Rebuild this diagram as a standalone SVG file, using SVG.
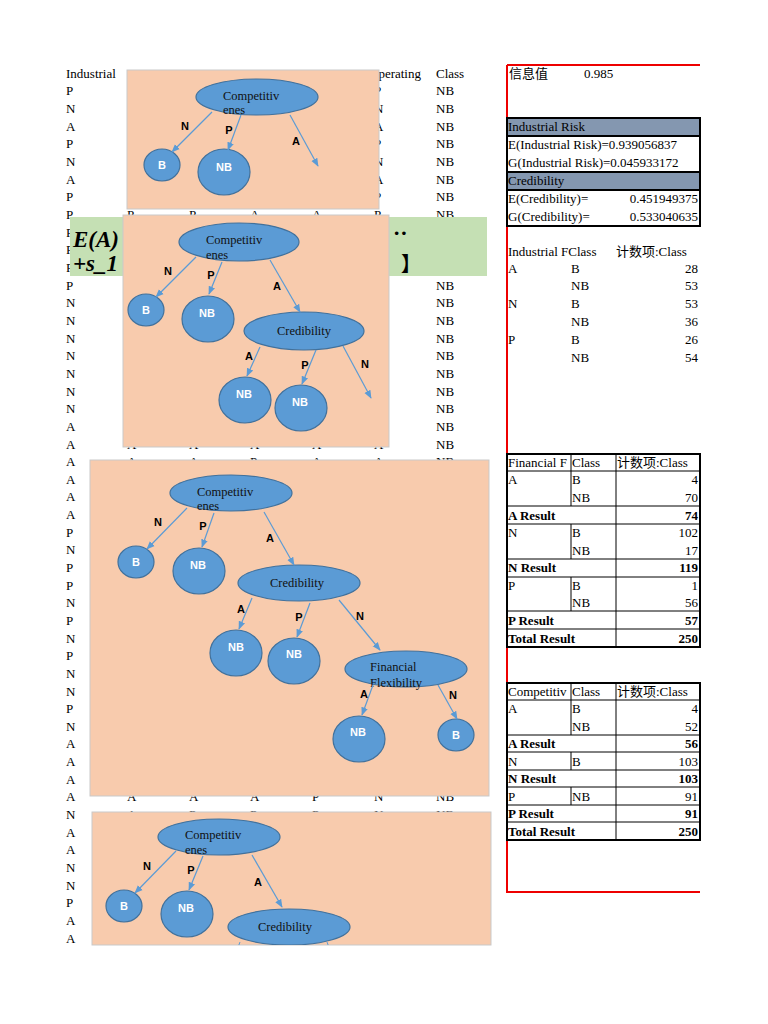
<svg xmlns="http://www.w3.org/2000/svg" width="768" height="1024" viewBox="0 0 768 1024">
<defs>
<style>
.s{font-family:"Liberation Serif",serif;font-size:13px;fill:#000}
.sb{font-family:"Liberation Serif",serif;font-size:13px;font-weight:bold;fill:#000}
.cj{font-family:"Liberation Serif","Noto Sans CJK SC",serif;font-size:13px;fill:#000}
.pn{fill:#f8cbad;stroke:#c9c9c9;stroke-width:1}
.nd{fill:#5b9bd5;stroke:#41719c;stroke-width:1.2}
.lf{font-family:"Liberation Sans",sans-serif;font-size:11px;font-weight:bold;fill:#fff;text-anchor:middle}
.nt{font-family:"Liberation Serif",serif;font-size:12.5px;fill:#111}
.el{font-family:"Liberation Sans",sans-serif;font-size:11px;font-weight:bold;fill:#000;text-anchor:middle}
.ar{stroke:#5b9bd5;stroke-width:1.2;fill:none;marker-end:url(#m)}
.r{text-anchor:end}
.tb{fill:none;stroke:#000;stroke-width:2}
.tl{stroke:#000;stroke-width:1}
</style>
<marker id="m" viewBox="0 0 10 10" refX="9" refY="5" markerWidth="7" markerHeight="7" orient="auto"><path d="M0,1 L10,5 L0,9 z" fill="#5b9bd5"/></marker>
<clipPath id="c4"><rect x="92" y="812" width="399" height="133"/></clipPath>
</defs>
<rect width="768" height="1024" fill="#fff"/>
<g id="sheet">
<text class="s" x="66" y="78">Industrial</text><text class="s" x="369" y="78">Operating</text><text class="s" x="436" y="78">Class</text>
<g class="s">
<text x="66" y="95">P</text><text x="66" y="113">N</text><text x="66" y="131">A</text><text x="66" y="148">P</text><text x="66" y="166">N</text><text x="66" y="184">A</text><text x="66" y="201">P</text><text x="66" y="219">P</text><text x="66" y="237">P</text><text x="66" y="254">P</text><text x="66" y="272">P</text><text x="66" y="290">P</text><text x="66" y="307">N</text><text x="66" y="325">N</text><text x="66" y="343">N</text><text x="66" y="360">N</text><text x="66" y="378">N</text><text x="66" y="396">N</text><text x="66" y="413">N</text><text x="66" y="431">A</text><text x="66" y="449">A</text><text x="66" y="466">A</text><text x="66" y="484">A</text><text x="66" y="501">A</text><text x="66" y="519">A</text><text x="66" y="537">P</text><text x="66" y="554">N</text><text x="66" y="572">P</text><text x="66" y="590">P</text><text x="66" y="607">N</text><text x="66" y="625">P</text><text x="66" y="643">N</text><text x="66" y="660">P</text><text x="66" y="678">N</text><text x="66" y="696">N</text><text x="66" y="713">P</text><text x="66" y="731">N</text><text x="66" y="748">A</text><text x="66" y="766">A</text><text x="66" y="784">A</text><text x="66" y="801">A</text><text x="66" y="819">N</text><text x="66" y="837">A</text><text x="66" y="854">A</text><text x="66" y="872">N</text><text x="66" y="890">N</text><text x="66" y="907">P</text><text x="66" y="925">A</text><text x="66" y="943">A</text>
<text x="374" y="95">P</text><text x="374" y="113">N</text><text x="374" y="131">A</text><text x="374" y="148">P</text><text x="374" y="166">N</text><text x="374" y="184">A</text><text x="374" y="201">P</text>
<text x="127" y="219">P</text><text x="189" y="219">P</text><text x="250" y="219">A</text><text x="312" y="219">A</text><text x="374" y="219">P</text>
<text x="127" y="449">A</text><text x="189" y="449">A</text><text x="250" y="449">A</text><text x="312" y="449">A</text><text x="374" y="449">A</text>
<text x="127" y="466">A</text><text x="189" y="466">A</text><text x="250" y="466">P</text><text x="312" y="466">A</text><text x="374" y="466">A</text>
<text x="127" y="801">A</text><text x="189" y="801">A</text><text x="250" y="801">A</text><text x="312" y="801">P</text><text x="374" y="801">N</text>
<text x="127" y="819">A</text><text x="189" y="819">P</text><text x="250" y="819">P</text><text x="312" y="819">P</text><text x="374" y="819">N</text>
</g>
<g class="s">
<text x="436" y="95">NB</text><text x="436" y="113">NB</text><text x="436" y="131">NB</text><text x="436" y="148">NB</text><text x="436" y="166">NB</text><text x="436" y="184">NB</text><text x="436" y="201">NB</text><text x="436" y="219">NB</text><text x="436" y="290">NB</text><text x="436" y="307">NB</text><text x="436" y="325">NB</text><text x="436" y="343">NB</text><text x="436" y="360">NB</text><text x="436" y="378">NB</text><text x="436" y="396">NB</text><text x="436" y="413">NB</text><text x="436" y="431">NB</text><text x="436" y="449">NB</text><text x="436" y="466">NB</text><text x="436" y="801">NB</text><text x="436" y="819">NB</text>
</g>
</g>
<g id="formula">
<rect x="70" y="217" width="417" height="59" fill="#c5e0b4"/>
<text x="73" y="247" font-family="Liberation Serif,serif" font-size="23" font-weight="bold" font-style="italic">E(A)</text>
<text x="73" y="271" font-family="Liberation Serif,serif" font-size="23" font-weight="bold" font-style="italic">+s_1</text>
<text x="393" y="240" font-family="Liberation Serif,serif" font-size="22" font-weight="bold">··</text>
<text x="401" y="271" font-family="Liberation Serif,Noto Sans CJK SC,serif" font-size="20" font-weight="bold">】</text>
</g>
<g id="panel1">
<rect class="pn" x="127" y="70" width="252" height="139"/>
<ellipse class="nd" cx="257" cy="97" rx="61" ry="18"/><text class="nt" x="223" y="100">Competitiv</text><text class="nt" x="223" y="114">enes</text>
<ellipse class="nd" cx="162" cy="165" rx="18" ry="16"/><text class="lf" x="162" y="169">B</text>
<ellipse class="nd" cx="224" cy="172" rx="26" ry="23"/><text class="lf" x="224" y="171">NB</text>
</g>
<g id="panel2">
<rect class="pn" x="123" y="215" width="266" height="232"/>
<ellipse class="nd" cx="239" cy="242" rx="60" ry="19"/><text class="nt" x="206" y="244">Competitiv</text><text class="nt" x="206" y="259">enes</text>
<ellipse class="nd" cx="146" cy="310" rx="18" ry="16"/><text class="lf" x="146" y="314">B</text>
<ellipse class="nd" cx="208" cy="319" rx="26" ry="23"/><text class="lf" x="207" y="317">NB</text>
<ellipse class="nd" cx="304" cy="331" rx="60" ry="19"/><text class="nt" x="304" y="335" text-anchor="middle">Credibility</text>
<ellipse class="nd" cx="245" cy="400" rx="26" ry="23"/><text class="lf" x="244" y="398">NB</text>
<ellipse class="nd" cx="301" cy="408" rx="26" ry="23"/><text class="lf" x="300" y="406">NB</text>
</g>
<g id="panel3">
<rect class="pn" x="90" y="460" width="399" height="336"/>
<ellipse class="nd" cx="231" cy="493" rx="61" ry="18"/><text class="nt" x="197" y="496">Competitiv</text><text class="nt" x="197" y="510">enes</text>
<ellipse class="nd" cx="136" cy="562" rx="18" ry="16"/><text class="lf" x="136" y="566">B</text>
<ellipse class="nd" cx="199" cy="571" rx="26" ry="23"/><text class="lf" x="198" y="569">NB</text>
<ellipse class="nd" cx="299" cy="583" rx="61" ry="18"/><text class="nt" x="297" y="587" text-anchor="middle">Credibility</text>
<ellipse class="nd" cx="236" cy="653" rx="26" ry="23"/><text class="lf" x="236" y="651">NB</text>
<ellipse class="nd" cx="294" cy="661" rx="26" ry="23"/><text class="lf" x="294" y="658">NB</text>
<ellipse class="nd" cx="406" cy="669" rx="61" ry="18"/><text class="nt" x="370" y="671">Financial</text><text class="nt" x="370" y="687">Flexibility</text>
<ellipse class="nd" cx="359" cy="739" rx="26" ry="23"/><text class="lf" x="358" y="736">NB</text>
<ellipse class="nd" cx="456" cy="735" rx="18" ry="16"/><text class="lf" x="456" y="739">B</text>
</g>
<g id="panel4">
<rect class="pn" x="92" y="812" width="399" height="133"/>
<g clip-path="url(#c4)">
<ellipse class="nd" cx="219" cy="837" rx="61" ry="18"/><text class="nt" x="185" y="839">Competitiv</text><text class="nt" x="185" y="854">enes</text>
<ellipse class="nd" cx="124" cy="906" rx="18" ry="16"/><text class="lf" x="124" y="910">B</text>
<ellipse class="nd" cx="187" cy="914" rx="26" ry="23"/><text class="lf" x="186" y="912">NB</text>
<ellipse class="nd" cx="289" cy="927" rx="61" ry="18"/><text class="nt" x="285" y="931" text-anchor="middle">Credibility</text>
<line x1="240" y1="942" x2="237" y2="950" stroke="#5b9bd5"/><line x1="327" y1="942" x2="330" y2="950" stroke="#5b9bd5"/>
</g>
</g>
<g id="connectors">
<path class="ar" d="M212,112 L172,152"/><path class="ar" d="M241,115 L228,150"/><path class="ar" d="M290,115 L318,166"/>
<path class="ar" d="M196,257 L156,297"/><path class="ar" d="M222,262 L209,294"/><path class="ar" d="M270,260 L300,312"/>
<path class="ar" d="M260,347 L247,376"/><path class="ar" d="M316,350 L302,384"/><path class="ar" d="M343,346 L371,398"/>
<path class="ar" d="M187,508 L147,549"/><path class="ar" d="M214,513 L202,547"/><path class="ar" d="M264,512 L294,565"/>
<path class="ar" d="M252,598 L239,629"/><path class="ar" d="M310,603 L297,637"/><path class="ar" d="M339,600 L380,650"/>
<path class="ar" d="M373,685 L362,715"/><path class="ar" d="M438,685 L457,719"/>
<path class="ar" d="M176,851 L135,893"/><path class="ar" d="M203,856 L189,890"/><path class="ar" d="M252,855 L282,907"/>
<g class="el">
<text x="185" y="130">N</text><text x="229" y="134">P</text><text x="296" y="145">A</text>
<text x="168" y="275">N</text><text x="211" y="279">P</text><text x="277" y="290">A</text>
<text x="249" y="360">A</text><text x="305" y="369">P</text><text x="365" y="368">N</text>
<text x="158" y="526">N</text><text x="203" y="530">P</text><text x="270" y="542">A</text>
<text x="241" y="613">A</text><text x="299" y="621">P</text><text x="360" y="620">N</text>
<text x="364" y="698">A</text><text x="453" y="699">N</text>
<text x="147" y="870">N</text><text x="191" y="874">P</text><text x="258" y="886">A</text>
</g>
</g>
<g id="right">
<path d="M507,65 H700 M507,65 V892 H700" stroke="#e00" stroke-width="2" fill="none"/>
<text class="cj" x="509" y="78">信息值</text><text class="s" x="584" y="78">0.985</text>
<rect x="507" y="118" width="193" height="18" fill="#8497b0"/>
<rect x="507" y="172" width="193" height="18" fill="#8497b0"/>
<rect class="tb" x="507" y="118" width="193" height="54"/><line class="tb" x1="507" y1="136" x2="700" y2="136"/>
<rect class="tb" x="507" y="172" width="193" height="54"/><line class="tb" x1="507" y1="190" x2="700" y2="190"/>
<g class="s">
<text x="508" y="131">Industrial Risk</text>
<text x="508" y="149">E(Industrial Risk)=0.939056837</text>
<text x="508" y="167">G(Industrial Risk)=0.045933172</text>
<text x="508" y="185">Credibility</text>
<text x="508" y="203">E(Credibility)=</text><text class="r" x="698" y="203">0.451949375</text>
<text x="508" y="221">G(Credibility)=</text><text class="r" x="698" y="221">0.533040635</text>
</g>
<g class="cj">
<text x="508" y="256">Industrial FClass</text><text x="616" y="256">计数项:Class</text>
<text x="508" y="273">A</text><text x="571" y="273">B</text><text class="r" x="698" y="273">28</text>
<text x="571" y="290">NB</text><text class="r" x="698" y="290">53</text>
<text x="508" y="308">N</text><text x="571" y="308">B</text><text class="r" x="698" y="308">53</text>
<text x="571" y="326">NB</text><text class="r" x="698" y="326">36</text>
<text x="508" y="344">P</text><text x="571" y="344">B</text><text class="r" x="698" y="344">26</text>
<text x="571" y="362">NB</text><text class="r" x="698" y="362">54</text>
</g>
<g id="tableFin">
<rect class="tb" x="507" y="454" width="193" height="193"/>
<path class="tl" d="M507,471H700 M507,506H700 M507,524H700 M507,559H700 M507,577H700 M507,611H700 M507,629H700 M616,454V647 M571,454V506 M571,524V559 M571,577V611"/>
<g class="cj">
<text x="508" y="467">Financial F</text><text x="572" y="467">Class</text><text x="617" y="467">计数项:Class</text>
<text x="508" y="484">A</text><text x="572" y="484">B</text><text class="r" x="698" y="484">4</text>
<text x="572" y="502">NB</text><text class="r" x="698" y="502">70</text>
<text x="572" y="537">B</text><text class="r" x="698" y="537">102</text><text x="508" y="537">N</text>
<text x="572" y="555">NB</text><text class="r" x="698" y="555">17</text>
<text x="508" y="590">P</text><text x="572" y="590">B</text><text class="r" x="698" y="590">1</text>
<text x="572" y="607">NB</text><text class="r" x="698" y="607">56</text>
</g>
<g class="sb">
<text x="508" y="520">A Result</text><text class="r" x="698" y="520">74</text>
<text x="508" y="572">N Result</text><text class="r" x="698" y="572">119</text>
<text x="508" y="625">P Result</text><text class="r" x="698" y="625">57</text>
<text x="508" y="643">Total Result</text><text class="r" x="698" y="643">250</text>
</g>
</g>
<g id="tableComp">
<rect class="tb" x="507" y="683" width="193" height="157"/>
<path class="tl" d="M507,700H700 M507,735H700 M507,752H700 M507,770H700 M507,787H700 M507,805H700 M507,822H700 M616,683V840 M571,683V735 M571,752V770 M571,787V805"/>
<g class="cj">
<text x="508" y="696">Competitiv</text><text x="572" y="696">Class</text><text x="617" y="696">计数项:Class</text>
<text x="508" y="713">A</text><text x="572" y="713">B</text><text class="r" x="698" y="713">4</text>
<text x="572" y="731">NB</text><text class="r" x="698" y="731">52</text>
<text x="508" y="766">N</text><text x="572" y="766">B</text><text class="r" x="698" y="766">103</text>
<text x="508" y="801">P</text><text x="572" y="801">NB</text><text class="r" x="698" y="801">91</text>
</g>
<g class="sb">
<text x="508" y="748">A Result</text><text class="r" x="698" y="748">56</text>
<text x="508" y="783">N Result</text><text class="r" x="698" y="783">103</text>
<text x="508" y="818">P Result</text><text class="r" x="698" y="818">91</text>
<text x="508" y="836">Total Result</text><text class="r" x="698" y="836">250</text>
</g>
</g>
</g>
</svg>
